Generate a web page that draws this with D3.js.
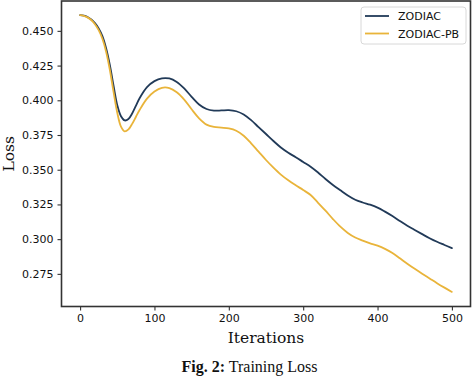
<!DOCTYPE html>
<html>
<head>
<meta charset="utf-8">
<script src="https://cdn.jsdelivr.net/npm/d3@7"></script>
<style>
  html, body { margin: 0; padding: 0; background: #fff; }
  svg { display: block; }
</style>
</head>
<body>
<svg id="chart" width="474" height="376"></svg>
<script>
const iterations = [0,5,10,15,20,25,30,35,40,45,50,55,60,65,70,75,80,90,100,110,120,130,140,150,160,170,180,190,200,210,220,230,240,250,260,270,280,290,300,310,320,330,340,350,360,370,380,390,400,410,420,430,440,450,460,470,480,490,500];
const zodiac = [0.4613,0.4609,0.4599,0.4582,0.4556,0.4518,0.4462,0.4375,0.4255,0.4105,0.3965,0.3885,0.3855,0.3865,0.3905,0.3960,0.4015,0.4095,0.4138,0.4158,0.4157,0.4132,0.4085,0.4025,0.3970,0.3937,0.3926,0.3927,0.3929,0.3921,0.3898,0.3857,0.3807,0.3757,0.3707,0.3660,0.3622,0.3590,0.3556,0.3522,0.3480,0.3433,0.3390,0.3352,0.3315,0.3284,0.3264,0.3248,0.3227,0.3198,0.3166,0.3131,0.3097,0.3066,0.3036,0.3007,0.2981,0.2958,0.2935];
const zodiacPB = [0.4613,0.4608,0.4597,0.4578,0.4548,0.4505,0.4443,0.4350,0.4220,0.4060,0.3910,0.3810,0.3776,0.3790,0.3830,0.3880,0.3930,0.4012,0.4063,0.4090,0.4088,0.4058,0.4005,0.3935,0.3870,0.3825,0.3808,0.3803,0.3797,0.3781,0.3745,0.3690,0.3630,0.3570,0.3515,0.3465,0.3424,0.3388,0.3354,0.3318,0.3262,0.3205,0.3145,0.3090,0.3045,0.3012,0.2990,0.2970,0.2953,0.2930,0.2900,0.2862,0.2823,0.2786,0.2751,0.2717,0.2683,0.2651,0.2620];
const xTicks = [0,100,200,300,400,500];
const yTicks = [0.275,0.300,0.325,0.350,0.375,0.400,0.425,0.450];
const seriesNames = ["ZODIAC","ZODIAC-PB"];
const seriesColors = ["#213a58","#e9b43a"];

const svg = d3.select("#chart");
const L = 61.5, R = 470.5, T = 1, B = 306.5;

const x = d3.scaleLinear().domain([-25, 525]).range([L, R]);
const y = d3.scaleLinear().domain([0.2515, 0.4715]).range([B, T]);

const series = [zodiac, zodiacPB];
const line = d3.line().x((d,i)=>x(iterations[i])).y(d=>y(d)).curve(d3.curveCatmullRom.alpha(0.5));

series.forEach((s,k)=>{
  svg.append("path").attr("d", line(s)).attr("fill","none")
    .attr("stroke", seriesColors[k]).attr("stroke-width", 1.8).attr("stroke-linejoin","round").attr("stroke-linecap","round");
});

// axes
const xAxis = svg.append("g").attr("transform",`translate(0,${B})`)
  .call(d3.axisBottom(x).tickValues(xTicks).tickSize(4).tickPadding(4).tickFormat(d3.format("d")));
const yAxis = svg.append("g").attr("transform",`translate(${L},0)`)
  .call(d3.axisLeft(y).tickValues(yTicks).tickSize(4).tickPadding(4).tickFormat(d3.format(".3f")));
[xAxis,yAxis].forEach(g=>{
  g.select(".domain").remove();
  g.selectAll("line").attr("stroke","#333").attr("stroke-width",1.1);
  g.selectAll("text").attr("font-family","DejaVu Sans").attr("font-size",11).attr("fill","#111");
});

// frame
svg.append("rect").attr("x",L).attr("y",T).attr("width",R-L).attr("height",B-T)
  .attr("fill","none").attr("stroke","#333").attr("stroke-width",1.6);

// legend
const lg = svg.append("g");
lg.append("rect").attr("x",361).attr("y",7).attr("width",105).attr("height",37).attr("rx",3)
  .attr("fill","#fff").attr("stroke","#d8d8d8").attr("stroke-width",1);
seriesNames.forEach((n,k)=>{
  const yy = 16 + k*17.5;
  lg.append("line").attr("x1",365).attr("x2",389).attr("y1",yy).attr("y2",yy)
    .attr("stroke",seriesColors[k]).attr("stroke-width",1.8);
  lg.append("text").attr("x",398).attr("y",yy+4).text(n)
    .attr("font-family","DejaVu Sans").attr("font-size",11).attr("fill","#111");
});

// axis labels
svg.append("text").attr("x",(L+R)/2).attr("y",343).attr("text-anchor","middle")
  .attr("font-family","DejaVu Serif").attr("font-size",15.5).attr("fill","#111").text("Iterations");
svg.append("text").attr("transform",`translate(14,${(T+B)/2}) rotate(-90)`).attr("text-anchor","middle")
  .attr("font-family","DejaVu Serif").attr("font-size",15.5).attr("fill","#111").text("Loss");

// caption
const cap = svg.append("text").attr("x",181.5).attr("y",371.5)
  .attr("font-family","Liberation Serif").attr("font-size",16).attr("fill","#111");
cap.append("tspan").attr("font-weight","bold").text("Fig. 2:");
cap.append("tspan").text(" Training Loss");
</script>
</body>
</html>
